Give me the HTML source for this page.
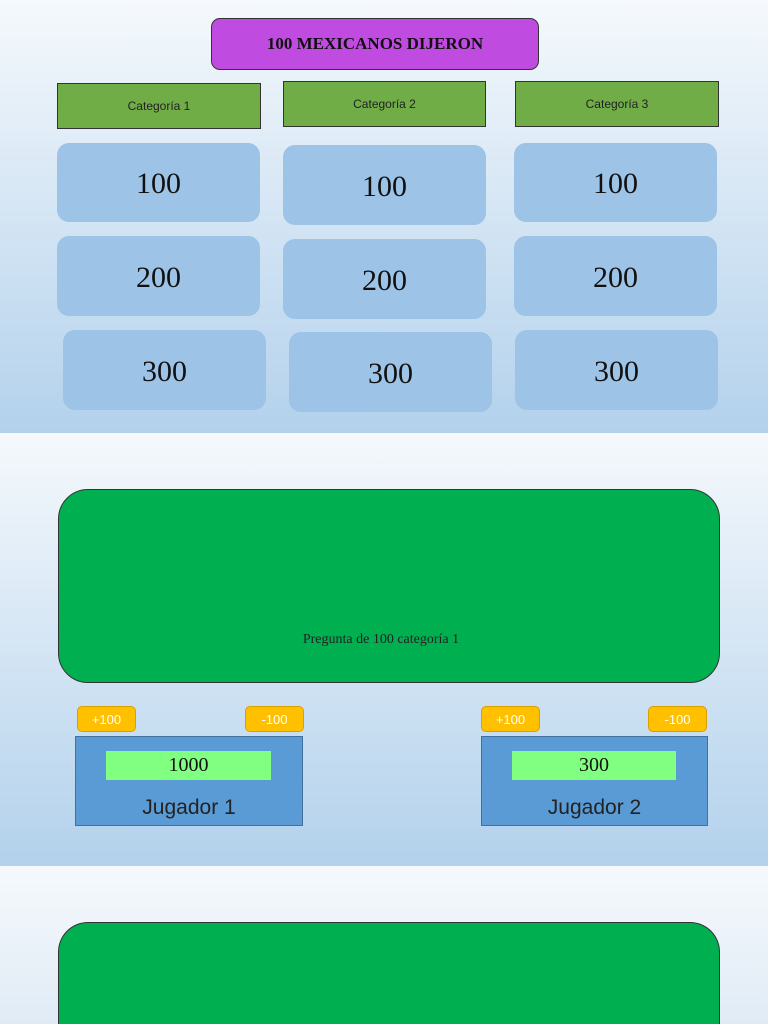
<!DOCTYPE html>
<html style="width:768px;height:1024px;overflow:hidden"><head><style>
*{margin:0;padding:0;box-sizing:border-box}
body{width:768px;height:1024px;overflow:hidden;position:relative;background:#f5f8fc}
.s{position:absolute;left:0;width:768px;background:linear-gradient(#f5f9fc,#b3d1ec)}
.a{position:absolute}
.t{position:absolute;background:#9dc3e6;border-radius:12px;display:flex;align-items:center;justify-content:center;font-family:"Liberation Serif",serif;font-size:30px;color:#111;padding-top:3px}
.c{position:absolute;background:#70ad47;border:1px solid #333;display:flex;align-items:center;justify-content:center;font-family:"Liberation Sans",sans-serif;font-size:12px;color:#222}
.b{position:absolute;width:59px;height:26px;border-radius:5px;background:#ffc000;border:1px solid #d9a000;color:#fff;font-family:"Liberation Sans",sans-serif;font-size:13px;display:flex;align-items:center;justify-content:center}
.p{position:absolute;background:#5b9bd5;border:1px solid #41719c;height:90px;width:228px}
.g{position:absolute;background:#80ff80;height:29px;width:165px;top:14px;display:flex;align-items:center;justify-content:center;font-family:"Liberation Serif",serif;font-size:20px;color:#111}
.j{position:absolute;left:0;right:0;top:59px;text-align:center;font-family:"Liberation Sans",sans-serif;font-size:21px;color:#222}
</style></head><body>
<div class="s" style="top:0;height:433px"></div>
<div class="s" style="top:433px;height:433px"></div>
<div class="s" style="top:866px;height:158px;background:linear-gradient(#f5f9fc,#e0ebf6)"></div>

<div class="a" style="left:211px;top:18px;width:328px;height:52px;background:#c04be0;border:1px solid #333;border-radius:9px;display:flex;align-items:center;justify-content:center;font-family:'Liberation Serif',serif;font-weight:bold;font-size:17px;color:#111">100 MEXICANOS DIJERON</div>

<div class="c" style="left:57px;top:83px;width:204px;height:46px">Categoría 1</div>
<div class="c" style="left:283px;top:81px;width:203px;height:46px">Categoría 2</div>
<div class="c" style="left:515px;top:81px;width:204px;height:46px">Categoría 3</div>

<div class="t" style="left:57px;top:143px;width:203px;height:79px">100</div>
<div class="t" style="left:283px;top:145px;width:203px;height:80px">100</div>
<div class="t" style="left:514px;top:143px;width:203px;height:79px">100</div>
<div class="t" style="left:57px;top:236px;width:203px;height:80px">200</div>
<div class="t" style="left:283px;top:239px;width:203px;height:80px">200</div>
<div class="t" style="left:514px;top:236px;width:203px;height:80px">200</div>
<div class="t" style="left:63px;top:330px;width:203px;height:80px">300</div>
<div class="t" style="left:289px;top:332px;width:203px;height:80px">300</div>
<div class="t" style="left:515px;top:330px;width:203px;height:80px">300</div>

<div class="a" style="left:58px;top:489px;width:662px;height:194px;background:#00b050;border:1px solid #333;border-radius:30px"></div>
<div class="a" style="left:50px;top:632px;width:662px;text-align:center;font-family:'Liberation Serif',serif;font-size:14px;color:#222">Pregunta de 100 categoría 1</div>

<div class="b" style="left:77px;top:706px">+100</div>
<div class="b" style="left:245px;top:706px">-100</div>
<div class="p" style="left:75px;top:736px"><div class="g" style="left:30px">1000</div><div class="j">Jugador 1</div></div>

<div class="b" style="left:481px;top:706px">+100</div>
<div class="b" style="left:648px;top:706px">-100</div>
<div class="p" style="left:481px;top:736px;width:227px"><div class="g" style="left:30px;width:164px">300</div><div class="j">Jugador 2</div></div>

<div class="a" style="left:58px;top:922px;width:662px;height:102px;background:#00b050;border:1px solid #333;border-bottom:none;border-radius:30px 30px 0 0"></div>
</body></html>
